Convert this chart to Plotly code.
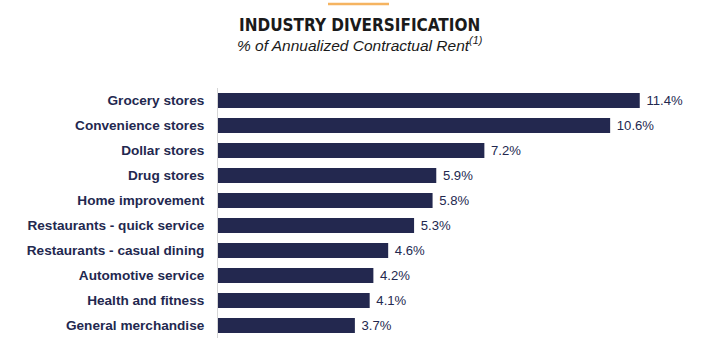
import plotly.graph_objects as go

# Share of annualized contractual rent by tenant industry
industries = [
    "Grocery stores",
    "Convenience stores",
    "Dollar stores",
    "Drug stores",
    "Home improvement",
    "Restaurants - quick service",
    "Restaurants - casual dining",
    "Automotive service",
    "Health and fitness",
    "General merchandise",
]
rent_share = [11.4, 10.6, 7.2, 5.9, 5.8, 5.3, 4.6, 4.2, 4.1, 3.7]

NAVY = "#23284F"
ORANGE = "#F5B461"

fig = go.Figure(
    go.Bar(
        x=rent_share,
        y=industries,
        orientation="h",
        marker=dict(color=NAVY, line=dict(width=0)),
        text=[f" {v:.1f}%" for v in rent_share],
        textposition="outside",
        textfont=dict(family="Liberation Sans, Arial, sans-serif", size=14, color=NAVY),
        cliponaxis=False,
        hoverinfo="skip",
    )
)

fig.update_layout(
    width=709,
    height=346,
    margin=dict(l=218, r=60, t=88, b=8),
    paper_bgcolor="white",
    plot_bgcolor="white",
    showlegend=False,
    bargap=0.4,
    xaxis=dict(
        range=[0, 11.65],
        showgrid=False,
        zeroline=False,
        showticklabels=False,
        showline=False,
        fixedrange=True,
    ),
    yaxis=dict(
        autorange="reversed",
        showgrid=False,
        zeroline=False,
        showline=True,
        linecolor="#D5D5D5",
        linewidth=1,
        ticks="",
        ticklabelstandoff=10,
        tickfont=dict(family="Liberation Sans, Arial, sans-serif", size=13.6, color=NAVY, weight="bold"),
        fixedrange=True,
    ),
    shapes=[
        dict(
            type="line",
            xref="paper", yref="paper",
            x0=(328 - 218) / 431, x1=(389 - 218) / 431,
            y0=(346 - 4 - 8) / 250, y1=(346 - 4 - 8) / 250,
            line=dict(color=ORANGE, width=2.5),
        )
    ],
    annotations=[
        dict(
            text="<b>INDUSTRY DIVERSIFICATION</b>",
            xref="paper", yref="paper",
            x=(359 - 218) / 431, y=(346 - 25 - 8) / 250,
            xanchor="center", yanchor="middle",
            showarrow=False,
            font=dict(family="DejaVu Sans Condensed, Arial Narrow, sans-serif", size=17, color="#1A1A1A"),
        ),
        dict(
            text="<i>% of Annualized Contractual Rent<sup>(1)</sup></i>",
            xref="paper", yref="paper",
            x=(359 - 218) / 431, y=(346 - 44 - 8) / 250,
            xanchor="center", yanchor="middle",
            showarrow=False,
            font=dict(family="Liberation Sans, Arial, sans-serif", size=15.5, color="#1A1A1A"),
        ),
    ],
)

fig.write_html("out.html")
